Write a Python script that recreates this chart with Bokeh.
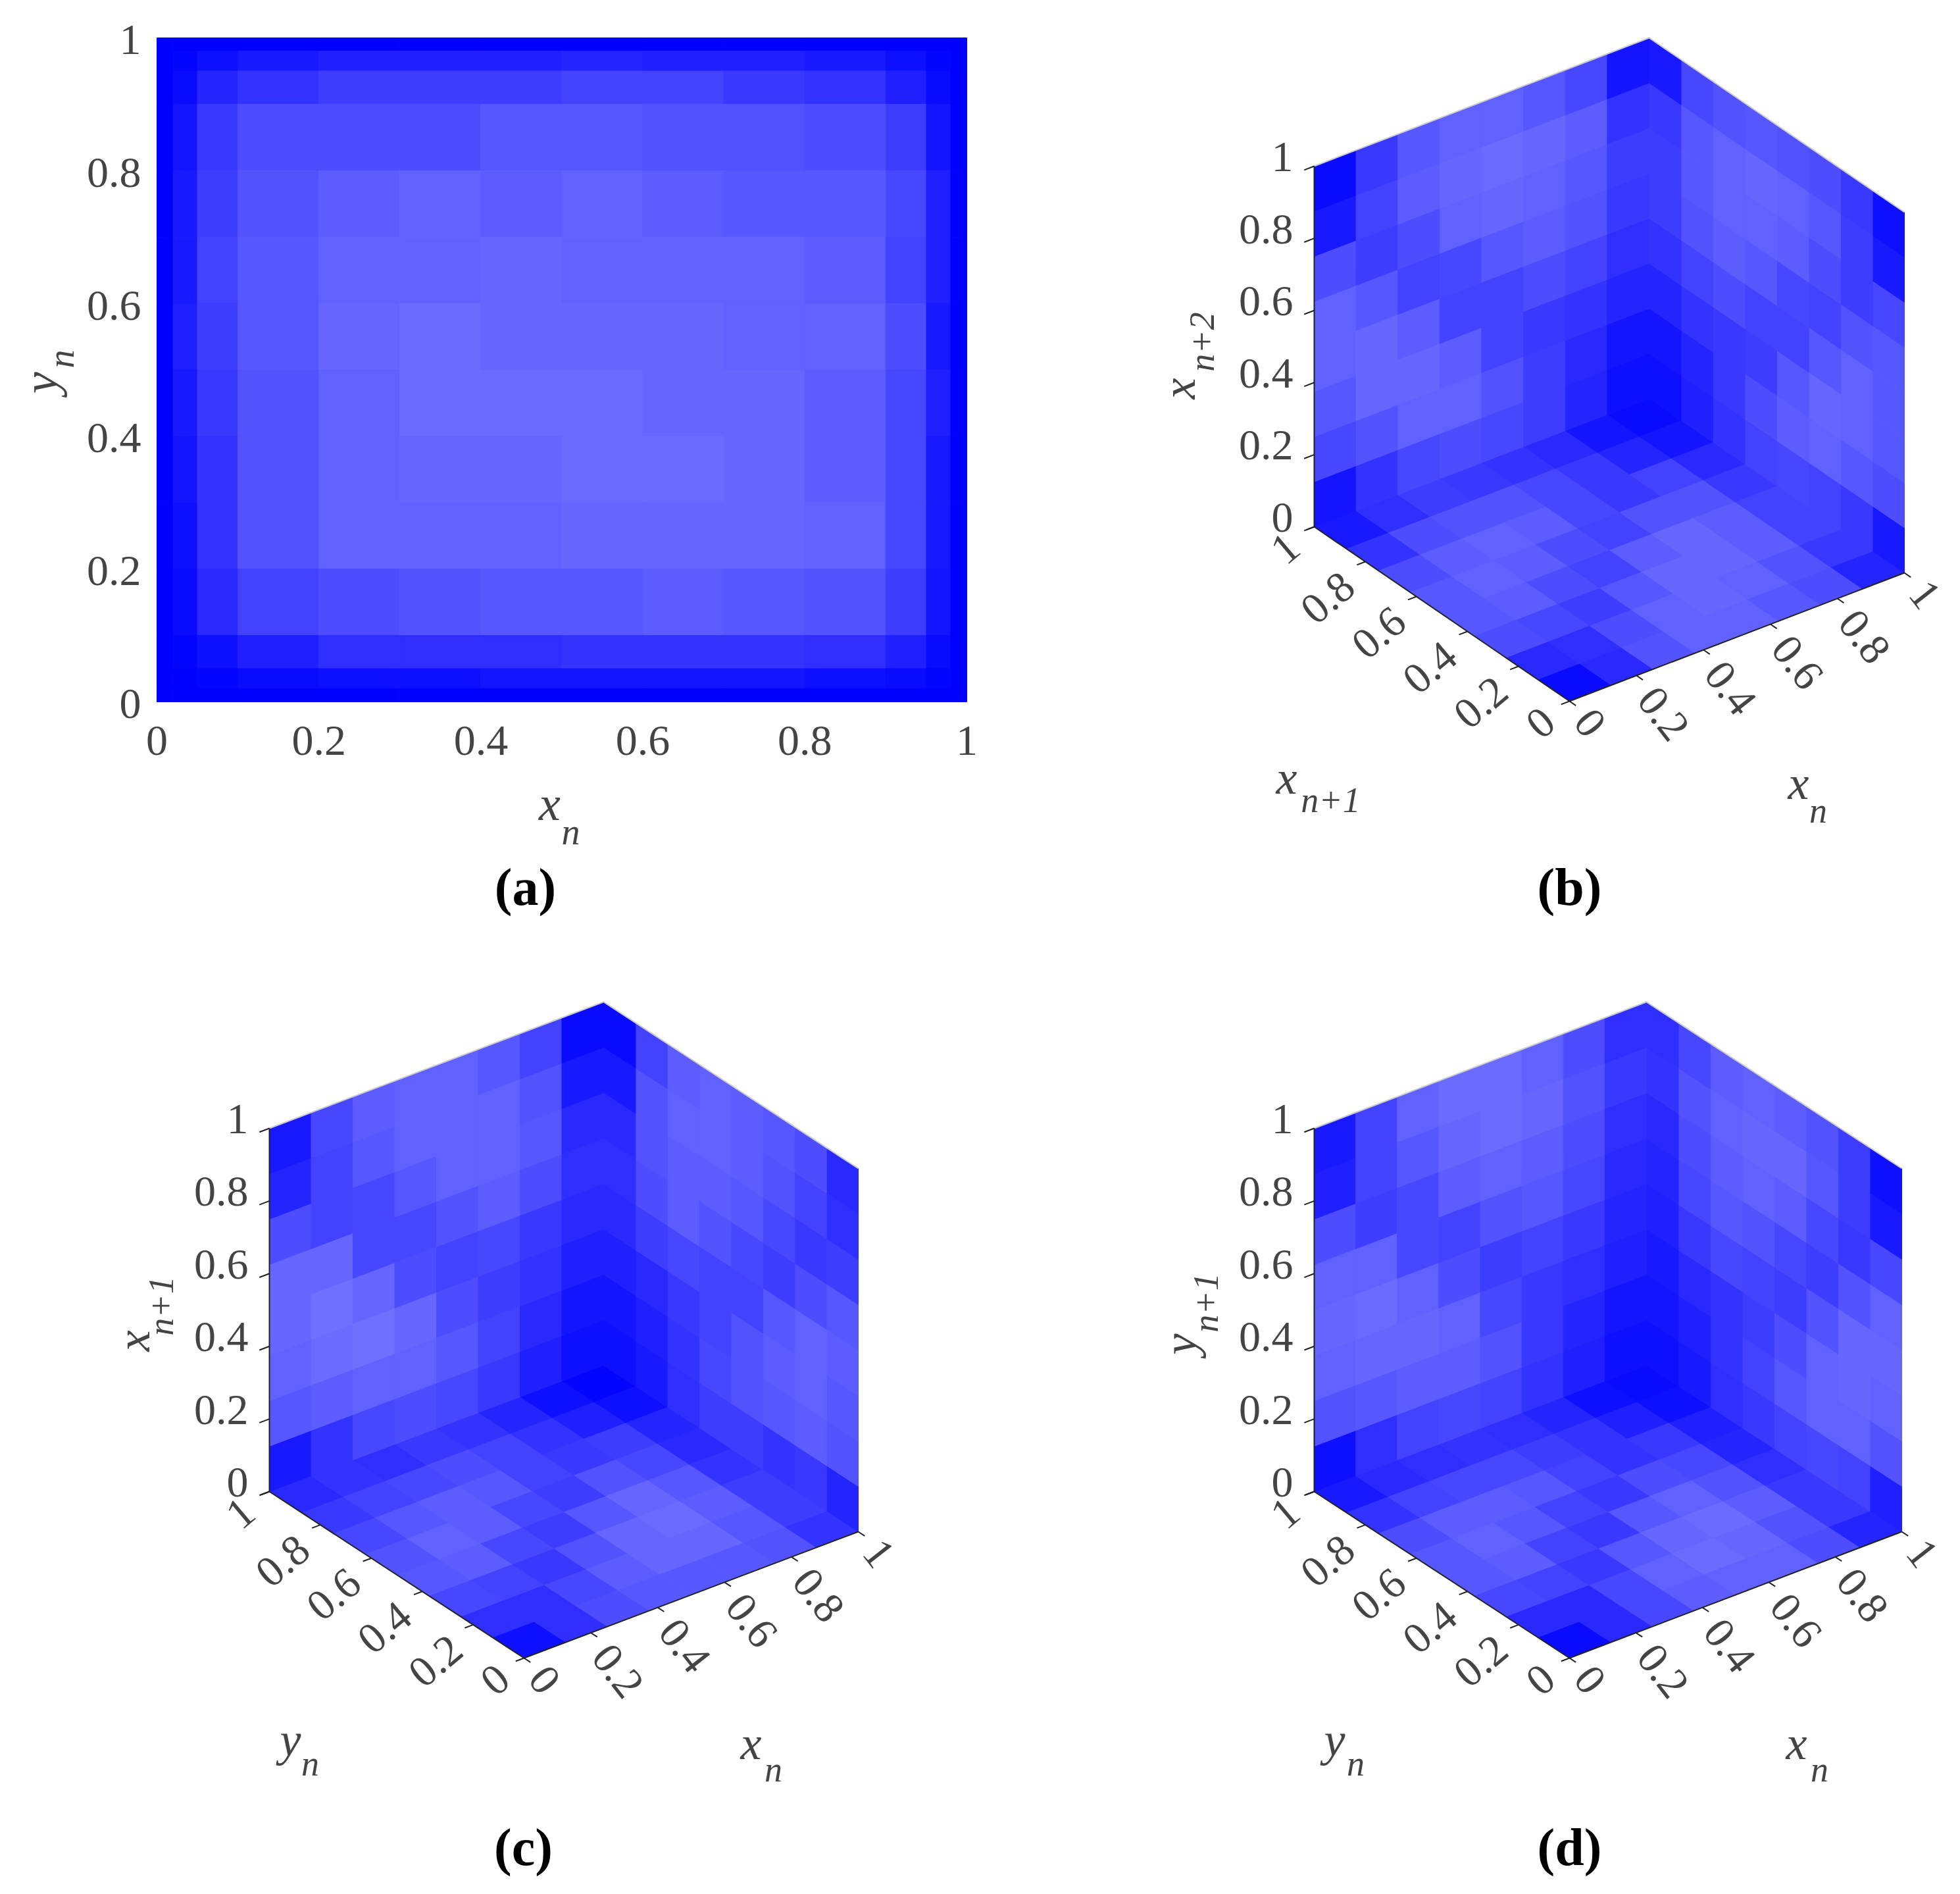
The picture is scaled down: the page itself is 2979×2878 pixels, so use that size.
import math
from bokeh.plotting import figure
from bokeh.models import Range1d
from bokeh.core.properties import value
from bokeh.embed import file_html
from bokeh.resources import INLINE

# NOTE: the reference's individual dots cannot be read one by one, so they are NOT reproduced.
# Each panel is shown as a coarse grid of dot cover.

# ---------- values ----------
TICKS = [0, 0.2, 0.4, 0.6, 0.8, 1]
TICK_LABELS = ["0", "0.2", "0.4", "0.6", "0.8", "1"]

# Panel (a): estimated share of each region that the dots cover (0 = white, 1 = solid blue).
A_X_EDGES = [0, .02, .05, .1, .2, .3, .4, .5, .6, .7, .8, .9, .95, .98, 1]
A_Y_EDGES = [1, .98, .95, .9, .8, .7, .6, .5, .4, .3, .2, .1, .05, .02, 0]
A_DENSITY = [
    [1.0, 1.0, 1.0, 1.0, 1.0, 1.0, 1.0, 1.0, 1.0, 1.0, 1.0, 1.0, 1.0, 1.0],
    [1.0, .98, .94, .90, .88, .88, .88, .86, .88, .88, .90, .94, .98, 1.0],
    [1.0, .96, .86, .80, .76, .76, .76, .74, .74, .78, .80, .88, .96, 1.0],
    [1.0, .92, .78, .70, .70, .70, .66, .66, .68, .68, .70, .76, .92, 1.0],
    [1.0, .90, .76, .68, .64, .62, .64, .62, .64, .66, .66, .72, .88, 1.0],
    [1.0, .90, .74, .66, .62, .62, .60, .62, .62, .62, .64, .74, .88, 1.0],
    [1.0, .88, .76, .66, .60, .58, .60, .60, .60, .62, .62, .70, .90, 1.0],
    [1.0, .90, .78, .68, .62, .58, .58, .58, .60, .60, .64, .72, .88, 1.0],
    [1.0, .92, .80, .68, .62, .60, .60, .58, .58, .60, .64, .72, .90, 1.0],
    [1.0, .94, .80, .68, .62, .62, .62, .60, .60, .60, .62, .72, .90, 1.0],
    [1.0, .96, .84, .74, .70, .68, .66, .66, .64, .66, .68, .76, .92, 1.0],
    [1.0, .98, .94, .88, .82, .82, .82, .80, .80, .80, .82, .88, .96, 1.0],
    [1.0, 1.0, .98, .96, .94, .94, .92, .92, .92, .92, .94, .96, .98, 1.0],
    [1.0, 1.0, 1.0, 1.0, 1.0, 1.0, 1.0, 1.0, 1.0, 1.0, 1.0, 1.0, 1.0, 1.0],
]

# Panels (b)-(d): the hexagon is read as three faces of the cube, 8 x 8 estimated cover values.
# Floor z=0: rows y low to high, columns x low to high.
# Wall x=1: rows z low to high, columns y low to high. Wall y=1: rows z low to high, columns x low to high.
B_FLOOR = [
    [.96, .84, .68, .62, .62, .66, .70, .86],
    [.84, .82, .70, .62, .60, .62, .68, .78],
    [.70, .72, .76, .66, .60, .60, .64, .74],
    [.66, .64, .70, .74, .64, .60, .64, .74],
    [.66, .62, .64, .70, .74, .68, .68, .78],
    [.70, .64, .62, .64, .72, .78, .74, .84],
    [.80, .70, .68, .68, .72, .78, .86, .92],
    [.90, .82, .76, .78, .80, .84, .92, .96],
]
B_RIGHT = [
    [.90, .78, .74, .72, .74, .80, .88, .94],
    [.70, .66, .62, .64, .70, .78, .86, .92],
    [.66, .62, .60, .66, .76, .78, .80, .86],
    [.66, .62, .66, .74, .74, .70, .74, .80],
    [.66, .68, .74, .72, .66, .64, .68, .76],
    [.72, .76, .70, .64, .62, .62, .66, .76],
    [.90, .76, .66, .62, .60, .62, .66, .78],
    [.94, .78, .70, .68, .66, .68, .72, .90],
]
B_LEFT = [
    [.92, .80, .72, .70, .72, .76, .86, .94],
    [.72, .68, .62, .62, .68, .76, .84, .92],
    [.66, .60, .60, .64, .74, .78, .80, .86],
    [.62, .60, .64, .74, .74, .70, .74, .82],
    [.62, .66, .74, .72, .66, .64, .68, .78],
    [.70, .76, .70, .62, .60, .62, .66, .76],
    [.90, .74, .64, .60, .58, .60, .64, .80],
    [.96, .78, .66, .62, .62, .66, .72, .92],
]
C_FLOOR = [
    [.94, .82, .70, .66, .66, .66, .68, .80],
    [.82, .82, .72, .64, .60, .60, .66, .76],
    [.72, .74, .78, .68, .60, .58, .64, .76],
    [.66, .64, .72, .76, .66, .60, .66, .80],
    [.68, .62, .64, .72, .76, .68, .72, .84],
    [.72, .66, .64, .66, .74, .78, .76, .86],
    [.78, .74, .72, .70, .74, .80, .88, .94],
    [.84, .80, .82, .78, .80, .86, .94, .98],
]
C_RIGHT = [
    [.86, .78, .80, .76, .76, .82, .90, .94],
    [.68, .64, .66, .68, .72, .80, .88, .92],
    [.66, .62, .64, .68, .74, .78, .84, .88],
    [.64, .62, .66, .74, .74, .72, .76, .84],
    [.66, .70, .76, .72, .68, .64, .70, .82],
    [.76, .78, .72, .66, .64, .64, .68, .84],
    [.82, .74, .68, .64, .62, .62, .68, .90],
    [.84, .70, .66, .64, .62, .64, .74, .96],
]
C_LEFT = [
    [.90, .80, .72, .70, .72, .78, .88, .94],
    [.66, .64, .62, .62, .66, .74, .84, .92],
    [.62, .58, .56, .60, .70, .76, .80, .88],
    [.60, .56, .60, .70, .74, .72, .78, .84],
    [.60, .60, .72, .72, .68, .64, .70, .82],
    [.70, .74, .72, .66, .62, .62, .66, .84],
    [.86, .74, .66, .62, .62, .62, .68, .90],
    [.90, .72, .64, .62, .62, .66, .74, .96],
]
D_FLOOR = [
    [.96, .84, .72, .64, .62, .62, .70, .86],
    [.84, .84, .72, .62, .58, .60, .68, .78],
    [.72, .74, .78, .66, .60, .58, .64, .78],
    [.66, .64, .74, .78, .66, .62, .68, .82],
    [.66, .62, .66, .74, .78, .70, .72, .86],
    [.70, .64, .64, .66, .74, .80, .78, .88],
    [.80, .74, .72, .72, .76, .80, .88, .94],
    [.90, .84, .82, .80, .82, .86, .94, .96],
]
D_RIGHT = [
    [.88, .74, .72, .74, .78, .82, .90, .94],
    [.68, .62, .62, .66, .74, .80, .88, .92],
    [.62, .60, .62, .70, .76, .80, .84, .90],
    [.60, .60, .68, .76, .74, .72, .78, .88],
    [.62, .68, .76, .72, .68, .66, .72, .86],
    [.72, .78, .72, .64, .62, .64, .70, .84],
    [.90, .76, .66, .60, .60, .62, .68, .80],
    [.94, .76, .68, .64, .62, .64, .72, .82],
]
D_LEFT = [
    [.94, .82, .74, .72, .74, .80, .88, .94],
    [.68, .66, .64, .64, .68, .78, .86, .92],
    [.62, .60, .60, .62, .72, .78, .82, .88],
    [.60, .58, .62, .70, .76, .74, .78, .86],
    [.62, .62, .72, .74, .68, .66, .72, .84],
    [.70, .76, .72, .64, .62, .64, .70, .82],
    [.88, .74, .66, .60, .58, .60, .68, .78],
    [.90, .74, .62, .58, .58, .62, .70, .82],
]

# ---------- layout and style ----------
FONT = "Liberation Serif"
TEXT = "#444444"
W, H = 2963, 2862
A_L, A_R, A_T, A_B = 238, 1469, 57, 1066


def cover(c):
    k = int(round(255 * (1 - c)))
    return f"#{k:02x}{k:02x}ff"


p = figure(width=W, height=H, output_backend="svg", toolbar_location=None,
           x_range=Range1d(0, W), y_range=Range1d(H, 0), min_border=0)
p.axis.visible = False
p.grid.visible = False
p.outline_line_color = None

# panel (a) has its own pair of linear scales: 0..1 on both axes
p.extra_x_ranges["ax"] = Range1d(-A_L / (A_R - A_L), (W - A_L) / (A_R - A_L))
p.extra_y_ranges["ay"] = Range1d((A_B - H) / (A_B - A_T), A_B / (A_B - A_T))


def txt(x, y, s, size, angle=0, style="normal", align="center", color=TEXT, **kw):
    p.text(x=[x], y=[y], text=[s], text_font=value(FONT), text_font_size=value(f"{size}px"),
           text_font_style=style, text_color=color, text_align=align, text_baseline="middle",
           angle=math.radians(angle), **kw)


# ---------- panel (a) ----------
lefts, rights, tops, bottoms, colors = [], [], [], [], []
for r, line in enumerate(A_DENSITY):
    for c, v in enumerate(line):
        lefts.append(A_X_EDGES[c]); rights.append(A_X_EDGES[c + 1])
        tops.append(A_Y_EDGES[r]); bottoms.append(A_Y_EDGES[r + 1])
        colors.append(cover(v))
p.quad(left=lefts, right=rights, top=tops, bottom=bottoms, fill_color=colors, line_color=colors,
       line_width=1, x_range_name="ax", y_range_name="ay")

for t, s in zip(TICKS, TICK_LABELS):
    txt(t, 0, s, 66, x_range_name="ax", y_range_name="ay", y_offset=59)
    txt(0, t, s, 66, align="right", x_range_name="ax", y_range_name="ay", x_offset=-24, y_offset=3)

txt(835, 1220, "x", 74, style="italic")
txt(867, 1263, "n", 56, style="italic")
txt(60, 581, "y", 74, angle=90, style="italic")
txt(92, 545, "n", 56, angle=90, style="italic")
txt(798, 1347, "(a)", 80, style="bold", color="#000000")


# ---------- panels (b)-(d): a projected cube ----------
def draw_cube(origin, dx, dy, dz, floor, right, left, labels, zlab, caption):
    def proj(x, y, z):
        return (origin[0] + x * dx[0] + y * dy[0] + z * dz[0],
                origin[1] + x * dx[1] + y * dy[1] + z * dz[1])

    xs, ys, colors = [], [], []

    def face(matrix, corner):
        n = len(matrix)
        for r, line in enumerate(matrix):
            for c, v in enumerate(line):
                pts = [corner(c / n, r / n), corner((c + 1) / n, r / n),
                       corner((c + 1) / n, (r + 1) / n), corner(c / n, (r + 1) / n)]
                xs.append([q[0] for q in pts]); ys.append([q[1] for q in pts])
                colors.append(cover(v))

    face(floor, lambda u, v: proj(u, v, 0))
    face(right, lambda u, v: proj(1, u, v))
    face(left, lambda u, v: proj(u, 1, v))
    p.patches(xs, ys, fill_color=colors, line_color=colors, line_width=1)

    # light edges at the back of the box
    for a, b in ((proj(0, 1, 1), proj(1, 1, 1)), (proj(1, 0, 1), proj(1, 1, 1))):
        p.line([a[0], b[0]], [a[1], b[1]], line_color="#cccccc", line_width=2)

    # the three drawn axes
    for a, b in ((proj(0, 0, 0), proj(1, 0, 0)), (proj(0, 0, 0), proj(0, 1, 0)), (proj(0, 1, 0), proj(0, 1, 1))):
        p.line([a[0], b[0]], [a[1], b[1]], line_color="#222222", line_width=2)

    for t, s in zip(TICKS, TICK_LABELS):
        two = len(s) > 1
        a = proj(t, 0, 0); b = proj(t, -0.025, 0)
        p.line([a[0], b[0]], [a[1], b[1]], line_color="#222222", line_width=2)
        off = (41, 58) if two else (31, 33)
        txt(a[0] + off[0], a[1] + off[1], s, 66, angle=-52)
        a = proj(0, t, 0); b = proj(-0.025, t, 0)
        p.line([a[0], b[0]], [a[1], b[1]], line_color="#222222", line_width=2)
        off = (-57, 55) if two else (-44, 33)
        txt(a[0] + off[0], a[1] + off[1], s, 66, angle=40)
        a = proj(0, 1, t); b = proj(-0.03, 1, t)
        p.line([a[0], b[0]], [a[1], b[1]], line_color="#222222", line_width=2)
        txt(proj(0, 1, t)[0] - 32, a[1] - 14, s, 66, align="right")

    for q in labels:
        txt(q[0], q[1], q[2], q[3], style="italic")
    for q in zlab:
        txt(q[0], q[1], q[2], q[3], angle=90, style="italic")
    txt(caption[0], caption[1], caption[2], 80, style="bold", color="#000000")


draw_cube((2385, 1065), (509, -195), (-388, -265), (0, -548), B_FLOOR, B_RIGHT, B_LEFT,
          [(2733, 1189, "x", 72), (2763, 1231, "n", 54), (1955, 1181, "x", 72), (2022, 1215, "n+1", 54)],
          [(1791, 590, "x", 72), (1826, 519, "n+2", 54)],
          (2385, 1347, "(b)"))
draw_cube((796, 2519), (508, -192), (-387, -253), (0, -552), C_FLOOR, C_RIGHT, C_LEFT,
          [(1141, 2648, "x", 72), (1175, 2688, "n", 54), (441, 2643, "y", 72), (471, 2679, "n", 54)],
          [(202, 2037, "x", 72), (244, 1984, "n+1", 54)],
          (795, 2806, "(c)"))
draw_cube((2385, 2519), (505, -192), (-388, -253), (0, -552), D_FLOOR, D_RIGHT, D_LEFT,
          [(2730, 2648, "x", 72), (2765, 2688, "n", 54), (2028, 2643, "y", 72), (2060, 2679, "n", 54)],
          [(1793, 2042, "y", 72), (1832, 1979, "n+1", 54)],
          (2385, 2806, "(d)"))

open("out.html", "w").write(file_html(p, INLINE))
